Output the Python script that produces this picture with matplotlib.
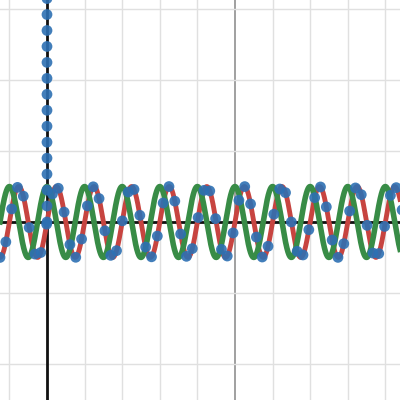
import numpy as np
import matplotlib
matplotlib.use("Agg")
import matplotlib.pyplot as plt

amplitude = 0.5
frequency = 2 * np.pi
dot_x = list(np.round(np.arange(-1.25, 9.5, 0.155), 3))
dot_col_y = list(np.round(np.arange(0, 3.2, 0.225), 3))

fig = plt.figure(figsize=(4, 4), dpi=100)
ax = fig.add_axes([0, 0, 1, 1])
xmin, xmax, ymin, ymax = -1.25, 9.39, -2.51, 3.13
ax.set_xlim(xmin, xmax); ax.set_ylim(ymin, ymax)
for gx in range(-1, 10):
    ax.axvline(gx, color="#e0e0e0" if gx != 5 else "#909090", lw=1 if gx != 5 else 1.2, zorder=0)
for gy in range(-2, 4):
    ax.axhline(gy, color="#e0e0e0", lw=1, zorder=0)
ax.axhline(0, color="#111111", lw=2, zorder=1)
ax.axvline(0, color="#111111", lw=2, zorder=1)

x = np.linspace(xmin, xmax, 3000)
ax.plot(x, amplitude * np.sin(frequency * x), color="#c74440", lw=3.5, zorder=2)
ax.plot(x, amplitude * np.cos(frequency * x), color="#388c46", lw=4, zorder=3)
dx = np.array(dot_x)
ax.scatter(dx, amplitude * np.sin(frequency * dx), s=60, color="#2d70b3", zorder=4, edgecolors="none", alpha=0.9)
ax.scatter(np.zeros(len(dot_col_y)), dot_col_y, s=60, color="#2d70b3", zorder=4, edgecolors="none", alpha=0.9)
ax.axis("off")
fig.savefig("out.png", dpi=100)
